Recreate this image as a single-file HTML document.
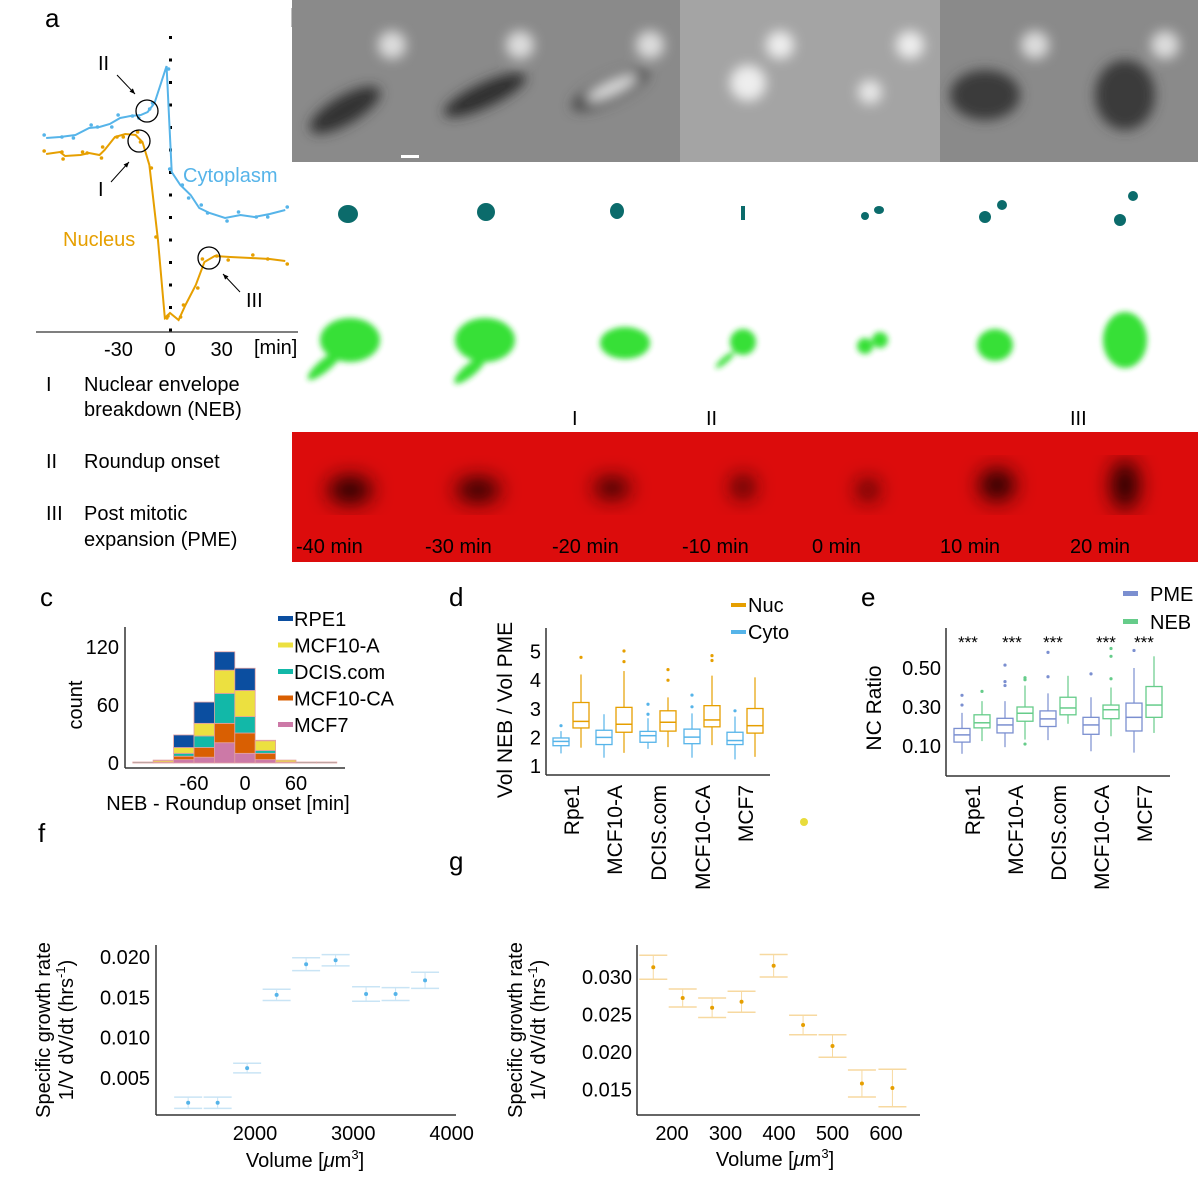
<!DOCTYPE html>
<html><head><meta charset="utf-8">
<style>
html,body{margin:0;padding:0;background:#fff;}
svg{display:block;font-family:"Liberation Sans",sans-serif;}
</style></head>
<body>
<svg id="fig" width="1200" height="1178" viewBox="0 0 1200 1178" xmlns="http://www.w3.org/2000/svg">
<defs>
<filter id="blur3"><feGaussianBlur stdDeviation="3"/></filter>
<filter id="blur6"><feGaussianBlur stdDeviation="6"/></filter>
<filter id="blur10"><feGaussianBlur stdDeviation="10"/></filter>
<clipPath id="clipTop"><rect x="292" y="0" width="906" height="162"/></clipPath>
<clipPath id="clipRed"><rect x="292" y="432" width="906" height="130"/></clipPath>
</defs>
<g font-size="26" fill="#000">
<text x="45" y="27">a</text>
<text x="290" y="27">b</text>
<text x="40" y="606">c</text>
<text x="449" y="606">d</text>
<text x="861" y="606">e</text>
<text x="38" y="842">f</text>
<text x="449" y="870">g</text>
</g>

<!-- Panel b microscopy -->
<g id="micro">
<g clip-path="url(#clipTop)">
<rect x="292" y="0" width="906" height="162" fill="#8a8a8a"/>
<rect x="680" y="0" width="260" height="162" fill="#a4a4a4"/>
<g filter="url(#blur6)">
<ellipse cx="345" cy="110" rx="40" ry="14" fill="#333" transform="rotate(-30 345 110)"/>
<ellipse cx="485" cy="95" rx="45" ry="12" fill="#2e2e2e" transform="rotate(-25 485 95)"/>
<ellipse cx="610" cy="90" rx="42" ry="12" fill="#444" transform="rotate(-25 610 90)"/>
<ellipse cx="612" cy="88" rx="28" ry="7" fill="#ddd" transform="rotate(-25 612 88)"/>
<circle cx="748" cy="83" r="18" fill="#eee"/>
<circle cx="870" cy="92" r="12" fill="#e8e8e8"/>
<ellipse cx="985" cy="95" rx="35" ry="25" fill="#3a3a3a"/>
<ellipse cx="1125" cy="95" rx="30" ry="35" fill="#3a3a3a"/>
<circle cx="392" cy="45" r="14" fill="#ddd"/><circle cx="520" cy="45" r="14" fill="#ddd"/>
<circle cx="650" cy="45" r="14" fill="#ddd"/><circle cx="780" cy="45" r="14" fill="#eee"/>
<circle cx="910" cy="45" r="14" fill="#eee"/><circle cx="1035" cy="45" r="14" fill="#ddd"/>
<circle cx="1165" cy="45" r="14" fill="#ddd"/>
</g>
<rect x="401" y="155" width="18" height="3" fill="#fff"/>
</g>
<g fill="#0b6b6b">
<ellipse cx="348" cy="214" rx="10" ry="9"/><ellipse cx="486" cy="212" rx="9" ry="9"/>
<ellipse cx="617" cy="211" rx="7" ry="8"/><rect x="741" y="206" width="4" height="14"/>
<ellipse cx="865" cy="216" rx="4" ry="4"/><ellipse cx="879" cy="210" rx="5" ry="4"/>
<ellipse cx="985" cy="217" rx="6" ry="6"/><ellipse cx="1002" cy="205" rx="5" ry="5"/>
<ellipse cx="1120" cy="220" rx="6" ry="6"/><ellipse cx="1133" cy="196" rx="5" ry="5"/>
</g>
<g fill="#22dd22" filter="url(#blur3)" opacity="0.9">
<ellipse cx="350" cy="340" rx="30" ry="22"/><ellipse cx="325" cy="365" rx="22" ry="6" transform="rotate(-40 325 365)"/>
<ellipse cx="485" cy="340" rx="30" ry="22"/><ellipse cx="470" cy="370" rx="20" ry="6" transform="rotate(-40 470 370)"/>
<ellipse cx="625" cy="343" rx="25" ry="16"/>
<circle cx="743" cy="342" r="13"/><ellipse cx="725" cy="360" rx="12" ry="3" transform="rotate(-40 725 360)"/>
<circle cx="865" cy="346" r="8"/><circle cx="880" cy="340" r="8"/>
<ellipse cx="995" cy="345" rx="18" ry="16"/><ellipse cx="1125" cy="340" rx="22" ry="28"/>
</g>
<g clip-path="url(#clipRed)">
<rect x="292" y="432" width="906" height="130" fill="#dc0c0c"/>
<g filter="url(#blur10)" fill="#200">
<ellipse cx="350" cy="490" rx="22" ry="14"/><ellipse cx="478" cy="490" rx="22" ry="12"/>
<ellipse cx="612" cy="488" rx="18" ry="10"/><circle cx="743" cy="487" r="11"/>
<circle cx="868" cy="490" r="10"/><ellipse cx="997" cy="485" rx="18" ry="16"/>
<ellipse cx="1125" cy="485" rx="14" ry="25"/>
</g>
</g>
<g font-size="20" fill="#000">
<text x="572" y="425">I</text>
<text x="706" y="425">II</text>
<text x="1070" y="425">III</text>
<text x="296" y="553">-40 min</text>
<text x="425" y="553">-30 min</text>
<text x="552" y="553">-20 min</text>
<text x="682" y="553">-10 min</text>
<text x="812" y="553">0 min</text>
<text x="940" y="553">10 min</text>
<text x="1070" y="553">20 min</text>
</g>
</g>

<!-- Panel a legend text -->
<g font-size="20" fill="#000">
<text x="46" y="391">I</text><text x="84" y="391">Nuclear envelope</text>
<text x="84" y="416">breakdown (NEB)</text>
<text x="46" y="468">II</text><text x="84" y="468">Roundup onset</text>
<text x="46" y="520">III</text><text x="84" y="520">Post mitotic</text>
<text x="84" y="546">expansion (PME)</text>
</g>

<g id="pa"></g><g id="pc"></g><g id="pd"></g><g id="pe"></g><g id="pf"></g><g id="pg"></g>
<circle cx="804" cy="822" r="4" fill="#e8dc3c"/>
</svg>
<script>
// ---------- Panel a data ----------
const aCytoT = [-72,-64,-55,-47,-41,-35,-29,-23,-17,-13,-9,-2,1,6,12,17,23,32,41,49,58,67];
const aCytoV = [194,195,197,204,205,208,214,216,217,220,229,266,160,147,137,124,119,114,117,115,118,122];
const aNucT = [-72,-64,-61,-52,-47,-41,-38,-32,-26,-20,-16,-12,-7,-3,0,5,9,15,20,26,35,47,58,67];
const aNucV = [178,180,176,177,179,177,182,195,198,197,190,167,92,14,19,12,27,47,70,76,75,74,73,71];
const aTicks = [-30,0,30];
// ---------- Panel c data ----------
const cBins = [-120,-96,-72,-48,-24,0,24,48,72,96];
const cMCF7 = [0,0,3.5,6,21,10,3.5,0.5,0,0];
const cMCF10CA = [0,0.5,3.5,10,20,21,6.5,0,0,0];
const cDCIS = [1,0.5,3,12,31,17,3,0.5,1,1];
const cMCF10A = [0,1.5,6,13,24,27,10,2,0,0];
const cRPE1 = [0,0.5,13,22,19,23,0.5,0,0,0];
const cYTicks = [0,60,120];
const cXTicks = [-60,0,60];
// ---------- Panel d data: [lo,q1,med,q3,hi] ----------
const dGroups = ["Rpe1","MCF10-A","DCIS.com","MCF10-CA","MCF7"];
const dCyto = [[1.44,1.71,1.86,1.98,2.22],[1.29,1.75,2.0,2.25,2.81],[1.6,1.83,2.06,2.21,2.67],[1.29,1.78,2.01,2.29,2.84],[1.23,1.75,1.89,2.18,2.73]];
const dNuc = [[1.64,2.33,2.56,3.22,4.2],[1.46,2.18,2.46,3.05,4.32],[1.66,2.22,2.53,2.93,3.4],[1.73,2.37,2.61,3.11,4.16],[1.32,2.15,2.41,3.01,4.1]];
const dCytoOut = [[2.41],[],[3.16,2.81],[3.07,3.48],[2.93]];
const dNucOut = [[4.8],[5.02,4.65],[4.37,4.0],[4.86,4.69],[]];
const dTicks = [1,2,3,4,5];
// ---------- Panel e data ----------
const eGroups = ["Rpe1","MCF10-A","DCIS.com","MCF10-CA","MCF7"];
const ePME = [[0.06,0.12,0.157,0.19,0.27],[0.094,0.167,0.208,0.242,0.33],[0.13,0.2,0.239,0.28,0.37],[0.073,0.16,0.208,0.247,0.35],[0.066,0.177,0.247,0.32,0.5]];
const eNEB = [[0.125,0.193,0.219,0.26,0.33],[0.133,0.227,0.268,0.3,0.41],[0.214,0.26,0.295,0.35,0.46],[0.15,0.24,0.286,0.31,0.4],[0.167,0.247,0.31,0.405,0.56]];
const ePMEOut = [[0.36,0.31],[0.515,0.43,0.41],[0.58,0.455],[0.47],[0.59]];
const eNEBOut = [[0.38],[0.11,0.44,0.45],[],[0.445,0.6,0.56],[]];
const eTicks = [0.1,0.3,0.5];
// ---------- Panel f data ----------
const fVol = [1320,1620,1920,2220,2520,2820,3130,3430,3730];
const fRate = [0.0019,0.0019,0.0062,0.0153,0.0191,0.0196,0.0154,0.0154,0.0171];
const fErr = [0.0007,0.0007,0.0006,0.0007,0.0008,0.0007,0.0009,0.0008,0.001];
const fXTicks = [2000,3000,4000];
const fYTicks = [0.005,0.010,0.015,0.020];
// ---------- Panel g data ----------
const gVol = [165,220,275,330,390,445,500,555,612];
const gRate = [0.0313,0.0272,0.0259,0.0267,0.0315,0.0236,0.0208,0.0158,0.0152];
const gErr = [0.0016,0.0012,0.0013,0.0014,0.0015,0.0013,0.0015,0.0018,0.0025];
const gXTicks = [200,300,400,500,600];
const gYTicks = [0.015,0.020,0.025,0.030];

const NS="http://www.w3.org/2000/svg";
function mk(parent,tag,attrs,text){const e=document.createElementNS(NS,tag);for(const k in attrs)e.setAttribute(k,attrs[k]);if(text!==undefined)e.textContent=text;parent.appendChild(e);return e;}

// ===== Panel a =====
(function(){
const g=document.getElementById('pa');
const xa=t=>170+t*1.72, ya=v=>332-v;
let el;
el=mk(g,'line',{x1:36,y1:332,x2:298,y2:332,stroke:'#555','stroke-width':1.5});


for(let y=36;y<332;y+=22.5){el=mk(g,'rect',{x:169,y:y,width:3,height:3,fill:'#000'});}
aTicks.forEach(t=>{el=mk(g,'text',{x:xa(t),y:356,'text-anchor':'middle','font-size':20},String(t));

});
mk(g,'text',{x:254,y:354,'font-size':20},'[min]');
function series(T,V,col,name){
 const pts=T.map((t,i)=>xa(t)+','+ya(V[i])).join(' ');
 const p=mk(g,'polyline',{points:pts,fill:'none',stroke:col,'stroke-width':2});
 
 
 T.forEach((t,i)=>{const c=mk(g,'circle',{cx:xa(t)+(i%2?2:-2),cy:ya(V[i])+(i%3-1)*3,r:1.8,fill:col});
 
 });
}
series(aCytoT,aCytoV,'#56b4e9','cytoplasm-line');
series(aNucT,aNucV,'#e69f00','nucleus-line');
mk(g,'text',{x:183,y:182,'font-size':20,fill:'#56b4e9'},'Cytoplasm');
mk(g,'text',{x:63,y:246,'font-size':20,fill:'#e69f00'},'Nucleus');
[[147,111],[139,141],[209,258]].forEach(c=>mk(g,'circle',{cx:c[0],cy:c[1],r:11,fill:'none',stroke:'#000','stroke-width':1.3}));
mk(g,'text',{x:98,y:70,'font-size':20},'II');
mk(g,'text',{x:98,y:196,'font-size':20},'I');
mk(g,'text',{x:246,y:307,'font-size':20},'III');
const arr=(x1,y1,x2,y2)=>{mk(g,'line',{x1,y1,x2,y2,stroke:'#000','stroke-width':1});
 const a=Math.atan2(y2-y1,x2-x1),L=6;
 mk(g,'polygon',{points:`${x2},${y2} ${x2-L*Math.cos(a-0.4)},${y2-L*Math.sin(a-0.4)} ${x2-L*Math.cos(a+0.4)},${y2-L*Math.sin(a+0.4)}`,fill:'#000'});};
arr(117,75,135,94);arr(111,182,129,162);arr(240,292,223,274);
})();

// ===== Panel c =====
(function(){
const g=document.getElementById('pc');
const xc=m=>245+m*0.85, yc=v=>763-v*0.967;
let el;
mk(g,'line',{x1:125,y1:627,x2:125,y2:768,stroke:'#333','stroke-width':1.5});
mk(g,'line',{x1:125,y1:768,x2:345,y2:768,stroke:'#333','stroke-width':1.5});
cYTicks.forEach(v=>{el=mk(g,'text',{x:119,y:yc(v)+7,'text-anchor':'end','font-size':20},String(v));

});
cXTicks.forEach(v=>{el=mk(g,'text',{x:xc(v),y:790,'text-anchor':'middle','font-size':20},String(v));

});
mk(g,'text',{x:228,y:810,'text-anchor':'middle','font-size':20},'NEB - Roundup onset [min]');
mk(g,'text',{transform:'translate(82,705) rotate(-90)','text-anchor':'middle','font-size':20},'count');
const layers=[[cMCF7,'#cc79a7','mcf7'],[cMCF10CA,'#d95f02','mcf10ca'],[cDCIS,'#12b8a8','dcis'],[cMCF10A,'#ece040','mcf10a'],[cRPE1,'#0b4ea0','rpe1']];
const bw=24*0.85;
cBins.forEach((b,i)=>{let base=0;
 layers.forEach(L=>{const v=L[0][i];if(v<=0)return;
  const r=mk(g,'rect',{x:xc(b)-bw/2,y:yc(base+v),width:bw,height:v*0.967,fill:L[1],stroke:'#e2a0a0','stroke-width':0.8});
  
  
  base+=v;});
});
const leg=[['RPE1','#0b4ea0'],['MCF10-A','#ece040'],['DCIS.com','#12b8a8'],['MCF10-CA','#d95f02'],['MCF7','#cc79a7']];
leg.forEach((l,i)=>{const y=619+i*26.5;
 mk(g,'rect',{x:278,y:y-3,width:15,height:5,fill:l[1]});
 el=mk(g,'text',{x:294,y:y+7,'font-size':20},l[0]);
 
 });
})();

// ===== Box plot helper =====
function boxes(g,groups,A,B,Aout,Bout,colA,colB,xs,ymap,prefix){
 groups.forEach((nm,i)=>{
  [[A,Aout,colA,-10,'a'],[B,Bout,colB,10,'b']].forEach(S=>{
   const s=S[0][i],cx=xs[i]+S[3],w=16;
   let el;
   mk(g,'line',{x1:cx,y1:ymap(s[0]),x2:cx,y2:ymap(s[1]),stroke:S[2],'stroke-width':1.2});
   mk(g,'line',{x1:cx,y1:ymap(s[3]),x2:cx,y2:ymap(s[4]),stroke:S[2],'stroke-width':1.2});
   el=mk(g,'rect',{x:cx-w/2,y:ymap(s[3]),width:w,height:ymap(s[1])-ymap(s[3]),fill:'#fff',stroke:S[2],'stroke-width':1.3});
   
   
   mk(g,'line',{x1:cx-w/2,y1:ymap(s[2]),x2:cx+w/2,y2:ymap(s[2]),stroke:S[2],'stroke-width':1.5});
   S[1][i].forEach(o=>{el=mk(g,'circle',{cx:cx,cy:ymap(o),r:1.6,fill:S[2]});
    
    });
  });
  const t=mk(g,'text',{transform:`translate(${xs[i]+8},785) rotate(-90)`,'text-anchor':'end','font-size':21},nm);
  
  
 });
}

// ===== Panel d =====
(function(){
const g=document.getElementById('pd');
const yd=v=>766-(v-1)*28.6;
const xs=[571,614,658,702,745];
mk(g,'line',{x1:546,y1:628,x2:546,y2:775,stroke:'#333','stroke-width':1.5});
mk(g,'line',{x1:546,y1:775,x2:770,y2:775,stroke:'#333','stroke-width':1.5});
dTicks.forEach(v=>{const t=mk(g,'text',{x:541,y:yd(v)+7,'text-anchor':'end','font-size':20},String(v));

});
mk(g,'text',{transform:'translate(512,710) rotate(-90)','text-anchor':'middle','font-size':21},'Vol NEB / Vol PME');
boxes(g,dGroups,dCyto,dNuc,dCytoOut,dNucOut,'#56b4e9','#e69f00',xs,yd,'d');
mk(g,'rect',{x:731,y:603,width:15,height:4,fill:'#e69f00'});
mk(g,'text',{x:748,y:612,'font-size':20},'Nuc');
mk(g,'rect',{x:731,y:630,width:15,height:4,fill:'#56b4e9'});
mk(g,'text',{x:748,y:639,'font-size':20},'Cyto');
})();

// ===== Panel e =====
(function(){
const g=document.getElementById('pe');
const ye=v=>746-(v-0.1)*195;
const xs=[972,1015,1058,1101,1144];
mk(g,'line',{x1:946,y1:628,x2:946,y2:776,stroke:'#333','stroke-width':1.5});
mk(g,'line',{x1:946,y1:776,x2:1170,y2:776,stroke:'#333','stroke-width':1.5});
eTicks.forEach(v=>{const t=mk(g,'text',{x:941,y:ye(v)+7,'text-anchor':'end','font-size':20},v.toFixed(2));

});
mk(g,'text',{transform:'translate(881,708) rotate(-90)','text-anchor':'middle','font-size':21},'NC Ratio');
boxes(g,eGroups,ePME,eNEB,ePMEOut,eNEBOut,'#7b8fd0','#66cc8a',xs,ye,'e');
[968,1012,1053,1106,1144].forEach(x=>mk(g,'text',{x:x,y:648,'text-anchor':'middle','font-size':17},'***'));
mk(g,'rect',{x:1123,y:591,width:15,height:5,fill:'#7b8fd0'});
mk(g,'text',{x:1150,y:601,'font-size':20},'PME');
mk(g,'rect',{x:1123,y:619,width:15,height:5,fill:'#66cc8a'});
mk(g,'text',{x:1150,y:629,'font-size':20},'NEB');
})();

// ===== Scatter with error bars =====
function errPlot(g,X,Y,E,xm,ym,col,capCol,prefix){
 X.forEach((x,i)=>{
  const cx=xm(x);let el;
  mk(g,'line',{x1:cx,y1:ym(Y[i]-E[i]),x2:cx,y2:ym(Y[i]+E[i]),stroke:capCol,'stroke-width':1});
  [Y[i]-E[i],Y[i]+E[i]].forEach(v=>mk(g,'line',{x1:cx-14,y1:ym(v),x2:cx+14,y2:ym(v),stroke:capCol,'stroke-width':1.5}));
  el=mk(g,'circle',{cx:cx,cy:ym(Y[i]),r:2,fill:col});
  
  
 });
}
// ===== Panel f =====
(function(){
const g=document.getElementById('pf');
const xf=v=>255+(v-2000)*0.0983, yf=v=>957+(0.020-v)*8050;
mk(g,'line',{x1:156,y1:945,x2:156,y2:1115,stroke:'#333','stroke-width':1.5});
mk(g,'line',{x1:156,y1:1115,x2:456,y2:1115,stroke:'#333','stroke-width':1.5});
fYTicks.forEach(v=>{const t=mk(g,'text',{x:150,y:yf(v)+7,'text-anchor':'end','font-size':20},v.toFixed(3));

});
fXTicks.forEach(v=>{const t=mk(g,'text',{x:xf(v),y:1140,'text-anchor':'middle','font-size':20},String(v));

});
errPlot(g,fVol,fRate,fErr,xf,yf,'#56b4e9','#c9e4f5','f');
const t=mk(g,'text',{x:305,y:1167,'text-anchor':'middle','font-size':20},'');
t.innerHTML='Volume [<tspan font-style="italic">μ</tspan>m<tspan dy="-8" font-size="13">3</tspan><tspan dy="8">]</tspan>';
mk(g,'text',{transform:'translate(50,1030) rotate(-90)','text-anchor':'middle','font-size':20},'Specific growth rate');
const t2=mk(g,'text',{transform:'translate(73,1030) rotate(-90)','text-anchor':'middle','font-size':20},'');
t2.innerHTML='1/V dV/dt (hrs<tspan dy="-8" font-size="13">-1</tspan><tspan dy="8">)</tspan>';
})();
// ===== Panel g =====
(function(){
const g=document.getElementById('pg');
const xg=v=>672+(v-200)*0.535, yg=v=>977+(0.030-v)*7500;
mk(g,'line',{x1:637,y1:945,x2:637,y2:1115,stroke:'#333','stroke-width':1.5});
mk(g,'line',{x1:637,y1:1115,x2:920,y2:1115,stroke:'#333','stroke-width':1.5});
gYTicks.forEach(v=>{const t=mk(g,'text',{x:632,y:yg(v)+7,'text-anchor':'end','font-size':20},v.toFixed(3));

});
gXTicks.forEach(v=>{const t=mk(g,'text',{x:xg(v),y:1140,'text-anchor':'middle','font-size':20},String(v));

});
errPlot(g,gVol,gRate,gErr,xg,yg,'#e69f00','#f7d9a0','g');
const t=mk(g,'text',{x:775,y:1166,'text-anchor':'middle','font-size':20},'');
t.innerHTML='Volume [<tspan font-style="italic">μ</tspan>m<tspan dy="-8" font-size="13">3</tspan><tspan dy="8">]</tspan>';
mk(g,'text',{transform:'translate(522,1030) rotate(-90)','text-anchor':'middle','font-size':20},'Specific growth rate');
const t2=mk(g,'text',{transform:'translate(545,1030) rotate(-90)','text-anchor':'middle','font-size':20},'');
t2.innerHTML='1/V dV/dt (hrs<tspan dy="-8" font-size="13">-1</tspan><tspan dy="8">)</tspan>';
})();
</script>
</body></html>
